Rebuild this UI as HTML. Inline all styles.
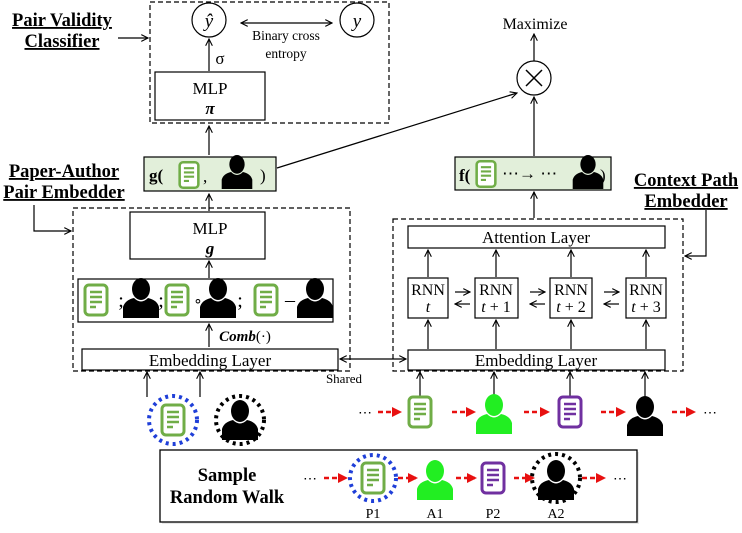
<!DOCTYPE html>
<html><head><meta charset="utf-8"><style>
html,body{margin:0;padding:0;background:#fff;}
svg{display:block;font-family:"Liberation Serif",serif;}
.b{font-weight:bold;font-size:18.5px;text-decoration:underline;}
</style></head><body>
<svg width="742" height="533" viewBox="0 0 742 533" xmlns="http://www.w3.org/2000/svg">
<defs>
<marker id="a" viewBox="0 0 10 10" refX="9" refY="5" markerWidth="7" markerHeight="7" orient="auto-start-reverse"><path d="M1,1 L9,5 L1,9" fill="none" stroke="#000" stroke-width="1.3"/></marker>
<marker id="r" viewBox="0 0 10 10" refX="8" refY="5" markerWidth="4" markerHeight="4" orient="auto"><path d="M0,0 L10,5 L0,10 z" fill="#e81010"/></marker>
<g id="pg"><rect x="-11" y="-15" width="22" height="30" rx="4" fill="#fff" stroke="#70ad47" stroke-width="3"/><path d="M-6,-8h12M-6,-3h12M-6,2h12M-6,7h6" stroke="#70ad47" stroke-width="2.5"/></g>
<g id="pp"><rect x="-11" y="-15" width="22" height="30" rx="4" fill="#fff" stroke="#7030a0" stroke-width="3"/><path d="M-6,-8h12M-6,-3h12M-6,2h12M-6,7h6" stroke="#7030a0" stroke-width="2.5"/></g>
<g id="pk"><ellipse cx="0" cy="-9" rx="9" ry="11"/><path d="M-18,20 L-18,9 Q-16,2 -7,0 Q0,7 7,0 Q16,2 18,9 L18,20 z"/></g>
</defs>
<g fill="none" stroke="#000" stroke-width="1.2">
<rect x="150" y="2" width="239" height="121" stroke-dasharray="5,3"/>
<circle cx="209" cy="20" r="17"/><circle cx="357" cy="20" r="17"/>
<line x1="241" y1="23" x2="332" y2="23" marker-start="url(#a)" marker-end="url(#a)"/>
<rect x="155" y="72" width="110" height="48"/>
<line x1="209" y1="71" x2="209" y2="39" marker-end="url(#a)"/>
<line x1="118" y1="38" x2="148" y2="38" marker-end="url(#a)"/>
<line x1="209" y1="155" x2="209" y2="126" marker-end="url(#a)"/>
<line x1="277" y1="168" x2="517" y2="93" marker-end="url(#a)"/>
<circle cx="534" cy="78" r="17"/>
<path d="M526,70 L542,86 M542,70 L526,86" stroke-width="1.5"/>
<line x1="534" y1="61" x2="534" y2="34" marker-end="url(#a)"/>
<line x1="534" y1="156" x2="534" y2="97" marker-end="url(#a)"/>
<polyline points="34,205 34,231 71,231" marker-end="url(#a)"/>
<rect x="73" y="208" width="277" height="163" stroke-dasharray="5,3"/>
<line x1="209" y1="211" x2="209" y2="194" marker-end="url(#a)"/>
<rect x="130" y="212" width="135" height="47"/>
<line x1="209" y1="278" x2="209" y2="261" marker-end="url(#a)"/>
<rect x="78" y="279" width="255" height="43"/>
<line x1="209" y1="347" x2="209" y2="324" marker-end="url(#a)"/>
<rect x="82" y="349" width="256" height="21"/>
<line x1="340" y1="359" x2="406" y2="359" marker-start="url(#a)" marker-end="url(#a)"/>
<line x1="147" y1="397" x2="147" y2="372" marker-end="url(#a)"/>
<line x1="200" y1="397" x2="200" y2="372" marker-end="url(#a)"/>
<rect x="393" y="219" width="290" height="152" stroke-dasharray="5,3"/>
<line x1="534" y1="218" x2="534" y2="192" marker-end="url(#a)"/>
<polyline points="706,210 706,256 685,256" marker-end="url(#a)"/>
<rect x="408" y="226" width="257" height="22"/>
<rect x="408" y="278" width="40" height="40"/><rect x="475" y="278" width="43" height="40"/><rect x="550" y="278" width="42" height="40"/><rect x="626" y="278" width="40" height="40"/>
<g marker-end="url(#a)">
<line x1="428" y1="277" x2="428" y2="250"/><line x1="496" y1="277" x2="496" y2="250"/><line x1="571" y1="277" x2="571" y2="250"/><line x1="646" y1="277" x2="646" y2="250"/>
<line x1="428" y1="349" x2="428" y2="320"/><line x1="496" y1="349" x2="496" y2="320"/><line x1="571" y1="349" x2="571" y2="320"/><line x1="646" y1="349" x2="646" y2="320"/>
<line x1="455" y1="292" x2="470" y2="292"/><line x1="470" y1="304" x2="455" y2="304"/>
<line x1="530" y1="292" x2="545" y2="292"/><line x1="545" y1="304" x2="530" y2="304"/>
<line x1="604" y1="292" x2="619" y2="292"/><line x1="619" y1="304" x2="604" y2="304"/>
<line x1="420" y1="397" x2="420" y2="372"/><line x1="494" y1="397" x2="494" y2="372"/><line x1="570" y1="397" x2="570" y2="372"/><line x1="645" y1="397" x2="645" y2="372"/>
</g>
<rect x="408" y="350" width="257" height="20"/>
</g>
<rect x="144" y="157" width="132" height="34" fill="#e2efda" stroke="#000" stroke-width="1.2"/>
<rect x="455" y="157" width="156" height="33" fill="#e2efda" stroke="#000" stroke-width="1.2"/>
<use href="#pg" x="189" y="175" transform="translate(189,175) scale(0.85) translate(-189,-175)"/>
<use href="#pk" x="237" y="172" transform="translate(237,172) scale(0.85) translate(-237,-172)"/>
<use href="#pg" x="486" y="174" transform="translate(486,174) scale(0.85) translate(-486,-174)"/>
<use href="#pk" x="588" y="172" transform="translate(588,172) scale(0.85) translate(-588,-172)"/>
<use href="#pg" x="96" y="300"/><use href="#pk" x="141" y="298"/>
<use href="#pg" x="177" y="300"/><use href="#pk" x="218" y="298"/>
<use href="#pg" x="266" y="300"/><use href="#pk" x="315" y="298"/>
<circle cx="173" cy="420" r="24" fill="none" stroke="#1f3fd8" stroke-width="4" stroke-dasharray="3,4"/>
<use href="#pg" x="173" y="420"/>
<circle cx="240" cy="420" r="24" fill="none" stroke="#000" stroke-width="4" stroke-dasharray="3,4"/>
<use href="#pk" x="240" y="420"/>
<use href="#pg" x="420" y="412"/>
<use href="#pk" x="494" y="414" fill="#22ee22"/>
<use href="#pp" x="570" y="412"/>
<use href="#pk" x="645" y="416"/>
<g stroke="#e81010" stroke-width="2.5" stroke-dasharray="5,3" marker-end="url(#r)" fill="none">
<line x1="378" y1="412" x2="400" y2="412"/><line x1="452" y1="412" x2="474" y2="412"/><line x1="524" y1="412" x2="548" y2="412"/><line x1="601" y1="412" x2="624" y2="412"/><line x1="672" y1="412" x2="694" y2="412"/>
</g>
<rect x="162" y="452" width="477" height="72" fill="#e8e8e8"/>
<rect x="160" y="450" width="477" height="72" fill="#fff" stroke="#000" stroke-width="1.3"/>
<circle cx="373" cy="478" r="23" fill="none" stroke="#1f3fd8" stroke-width="4" stroke-dasharray="3,4"/>
<use href="#pg" x="373" y="478"/>
<use href="#pk" x="435" y="480" fill="#22ee22"/>
<use href="#pp" x="493" y="478"/>
<circle cx="556" cy="478" r="24" fill="none" stroke="#000" stroke-width="4" stroke-dasharray="3,4"/>
<use href="#pk" x="556" y="480"/>
<g stroke="#e81010" stroke-width="2.5" stroke-dasharray="5,3" marker-end="url(#r)" fill="none">
<line x1="324" y1="478" x2="346" y2="478"/><line x1="398" y1="478" x2="416" y2="478"/><line x1="456" y1="478" x2="475" y2="478"/><line x1="514" y1="478" x2="533" y2="478"/><line x1="582" y1="478" x2="604" y2="478"/>
</g>
<g font-size="16" text-anchor="middle" fill="#000">
<text x="209" y="27" font-style="italic" font-size="19">ŷ</text>
<text x="357" y="27" font-style="italic" font-size="19">y</text>
<text x="286" y="40" font-size="13.5">Binary cross</text>
<text x="286" y="58" font-size="13.5">entropy</text>
<text x="220" y="64" font-size="17">σ</text>
<text x="210" y="94" font-size="17">MLP</text>
<text x="210" y="114" font-weight="bold" font-style="italic" font-size="17">π</text>
<text x="210" y="234" font-size="17">MLP</text>
<text x="210" y="254" font-weight="bold" font-style="italic" font-size="17">g</text>
<text x="535" y="29" font-size="16">Maximize</text>
<text x="536" y="243" font-size="17">Attention Layer</text>
<text x="210" y="366" font-size="17">Embedding Layer</text>
<text x="536" y="366" font-size="17">Embedding Layer</text>
<text x="428" y="295">RNN</text><text x="428" y="312" font-style="italic">t</text>
<text x="496" y="295">RNN</text><text x="496" y="312"><tspan font-style="italic">t</tspan> + 1</text>
<text x="571" y="295">RNN</text><text x="571" y="312"><tspan font-style="italic">t</tspan> + 2</text>
<text x="646" y="295">RNN</text><text x="646" y="312"><tspan font-style="italic">t</tspan> + 3</text>
<text x="245" y="341" font-weight="bold" font-style="italic" font-size="15">Comb<tspan font-weight="normal" font-style="normal">(·)</tspan></text>
<text x="121" y="307" font-size="20">;</text><text x="161" y="307" font-size="20">;</text>
<text x="198" y="306" font-size="15">∘</text><text x="240" y="307" font-size="20">;</text>
<text x="290" y="306" font-size="20">–</text>
<text x="344" y="383" font-size="13">Shared</text>
<text x="365" y="417" font-size="14">⋯</text><text x="710" y="417" font-size="14">⋯</text>
<text x="310" y="483" font-size="14">⋯</text><text x="620" y="483" font-size="14">⋯</text>
<text x="373" y="518" font-size="14">P1</text><text x="435" y="518" font-size="14">A1</text><text x="493" y="518" font-size="14">P2</text><text x="556" y="518" font-size="14">A2</text>
<text x="227" y="481" font-size="18.5" font-weight="bold">Sample</text>
<text x="227" y="503" font-size="18.5" font-weight="bold">Random Walk</text>
</g>
<g font-size="17" fill="#000">
<text x="149" y="181" font-weight="bold">g(</text><text x="203" y="182">,</text><text x="260" y="181">)</text>
<text x="459" y="181" font-weight="bold">f(</text><text x="502" y="179">⋯→ ⋯</text><text x="600" y="181">)</text>
</g>
<g class="b" fill="#000" text-anchor="middle">
<text x="62" y="26">Pair Validity</text><text x="62" y="47">Classifier</text>
<text x="64" y="177">Paper-Author</text><text x="64" y="198">Pair Embedder</text>
<text x="686" y="186">Context Path</text><text x="686" y="207">Embedder</text>
</g>
</svg>
</body></html>
